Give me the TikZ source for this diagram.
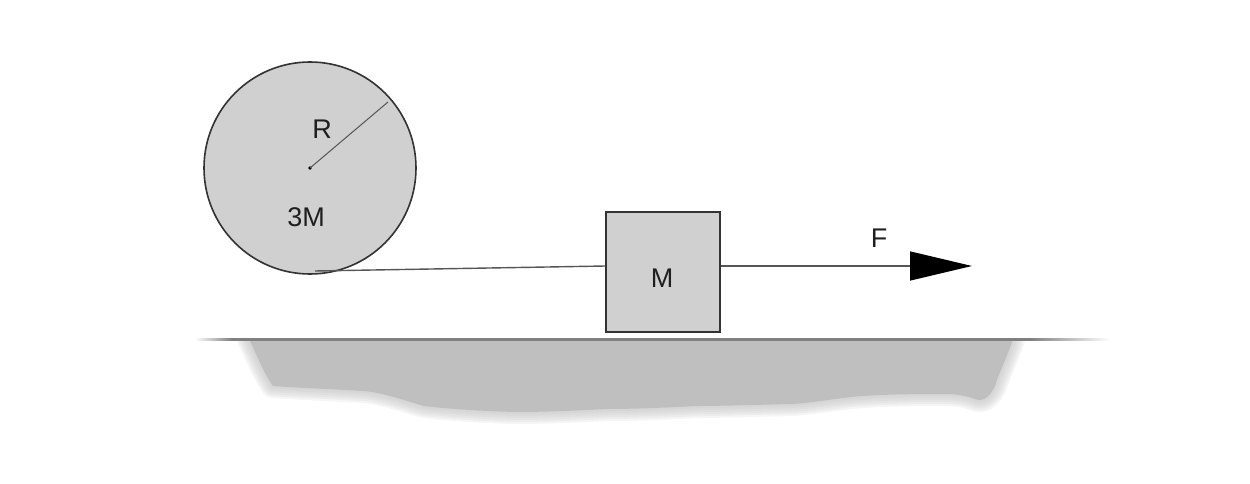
\documentclass[tikz,border=0pt]{standalone}
\usepackage{fontspec}
\setmainfont{Liberation Sans}
\usetikzlibrary{arrows.meta}
\definecolor{bodyfill}{HTML}{D0D0D0}
\definecolor{edgecol}{HTML}{333333}
\definecolor{strcol}{HTML}{555555}
\definecolor{shadowcol}{HTML}{BFBFBF}
\definecolor{groundcol}{HTML}{808080}
\begin{document}
\begin{tikzpicture}[x=1pt,y=-1pt,
  body/.style={draw=edgecol,fill=bodyfill,line width=1.6pt},
  rope/.style={draw=strcol,line width=1.4pt},
  lbl/.style={font=\fontsize{27}{30}\selectfont,text=black!88,inner sep=0pt}]
\useasboundingbox (0,0) rectangle (1250,484);
% ground shadow
\begin{scope}
\clip (0,340) rectangle (1250,484);
\def\shadowpath{(249,339) -- (1013,339) .. controls (1006,360) and (998,375) .. (995,386)
  .. controls (990,396) and (984,401) .. (978,400)
  .. controls (965,395) and (955,394) .. (942,394)
  .. controls (900,394) and (870,395) .. (851,397)
  .. controls (820,401) and (800,404) .. (790,404)
  .. controls (750,405) and (720,406) .. (698,406)
  .. controls (660,408) and (630,409) .. (607,409)
  .. controls (570,411) and (540,412) .. (515,412)
  .. controls (480,411) and (450,409) .. (424,406)
  .. controls (400,399) and (380,392) .. (363,391)
  .. controls (330,389) and (300,388) .. (273,386)
  .. controls (264,374) and (257,355) .. (249,339) -- cycle}
\foreach \w in {24,20,16,12,8,4}
  \draw[shadowcol,line width=\w pt,opacity=0.16,line join=round] \shadowpath;
\fill[shadowcol] \shadowpath;
\end{scope}
% ground line
\shade[left color=white,right color=groundcol] (195,338) rectangle (232,340.5);
\shade[left color=groundcol,right color=white] (1030,338) rectangle (1110,340.5);
\fill[groundcol] (232,338) rectangle (1030,340.5);
% disk
\node[body,circle,minimum size=212pt,inner sep=0pt] (disk) at (310,168) {};
\fill[black] (disk.center) circle (1.8pt);
\coordinate (rim) at (388,102);
\draw[strcol,line width=1pt] (disk.center) -- (rim);
\node[lbl] (rlabel) at (322,129) {R};
\node[lbl] (mlabel) at (306,217) {3M};
% block
\node[body,minimum width=114pt,minimum height=120pt,inner sep=0pt] (block) at (663,272) {};
\node[lbl] (blabel) at (662,278) {M};
% rope
\coordinate (tan) at (315,271);
\draw[rope] (tan) -- (block.west |- 0,266);
% force
\coordinate (tip) at (972,266);
\draw[rope,-{Triangle[length=62pt,width=29pt,color=black]}] (block.east |- 0,266) -- (tip);
\node[lbl] (flabel) at (879,238) {F};
\end{tikzpicture}
\end{document}
